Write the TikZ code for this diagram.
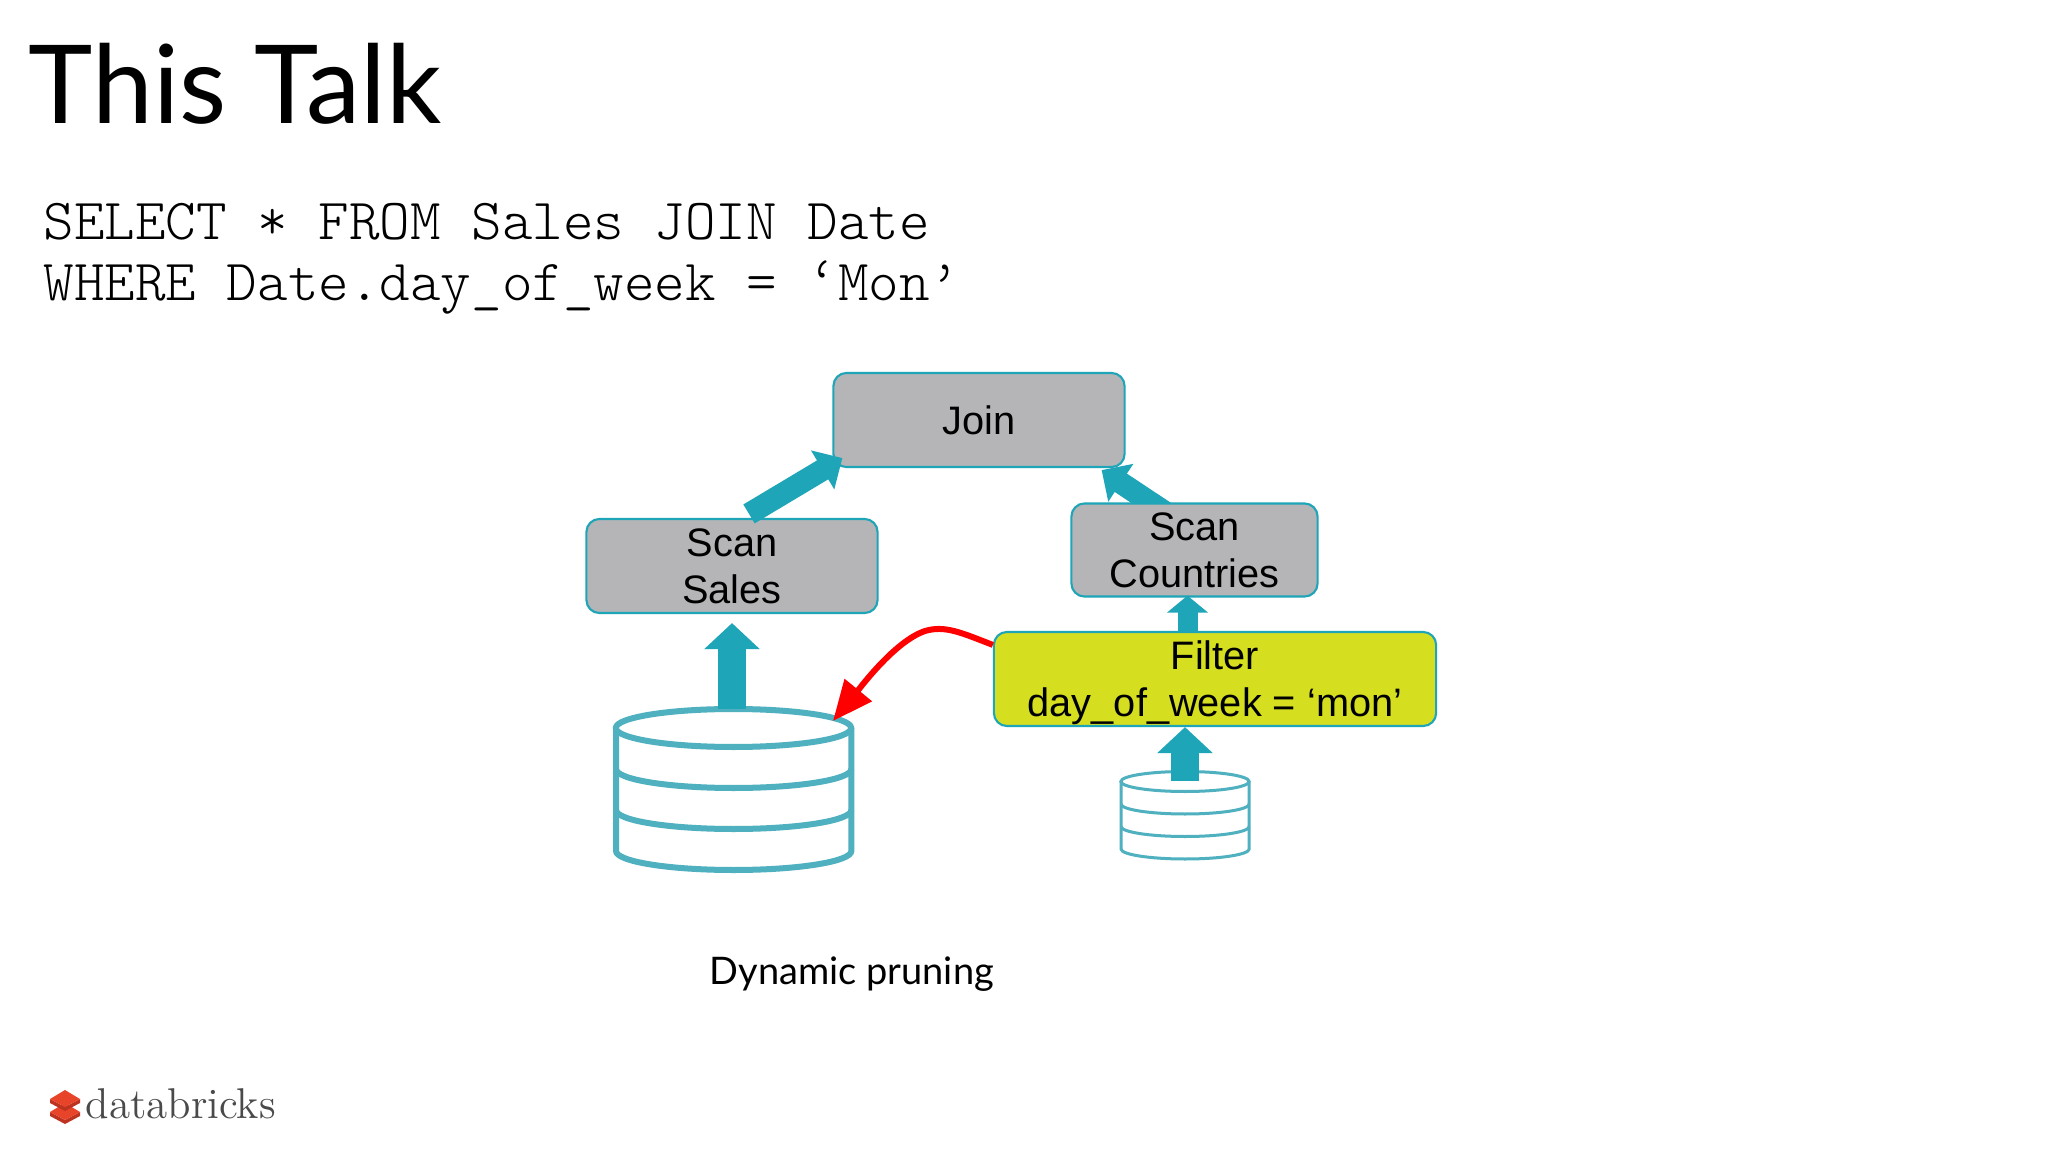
\documentclass[tikz,border=0pt]{standalone}
\usepackage{fontspec}
\usepackage{xcolor}
\newfontfamily\talkfont{Lato}
\newfontfamily\boxfont{Liberation Sans}
\usetikzlibrary{positioning,arrows.meta,calc,backgrounds}
\definecolor{flowteal}{HTML}{1FA5B8}
\definecolor{rimteal}{HTML}{4FB0BF}
\definecolor{opgrey}{HTML}{B5B4B6}
\definecolor{filtergreen}{HTML}{D5DF20}
\definecolor{logored}{HTML}{E8442A}
\definecolor{logodark}{HTML}{BE3320}
\definecolor{logotext}{HTML}{4A4A4A}
\tikzset{
  opbox/.style={draw=flowteal, line width=0.6pt, fill=opgrey, rounded corners=0.13cm, align=center, inner sep=0pt, text depth=-1.2pt, font=\boxfont\fontsize{11.3}{13.4}\selectfont},
  dbbox/.style={inner sep=0pt, outer sep=0pt},
  querytext/.style={anchor=base west, inner sep=0pt, font=\ttfamily\fontseries{l}\fontsize{16.55}{20}\selectfont},
  flowbig/.style={draw=flowteal, fill=flowteal, line width=0.28cm, -{Triangle[length=0.26cm,width=0.54cm]}},
  flowmid/.style={draw=flowteal, fill=flowteal, line width=0.22cm, -{Triangle[length=0.23cm,width=0.44cm]}},
  flowtiny/.style={draw=flowteal, fill=flowteal, line width=0.2cm, -{Triangle[length=0.17cm,width=0.4cm]}},
  prune/.style={draw=red, line width=0.06cm, -{Triangle[length=0.4cm,width=0.34cm]}}
}
\begin{document}
\begin{tikzpicture}[x=0.01cm, y=-0.01cm]
  \useasboundingbox (0,0) rectangle (2048,1152);
  % heading and query
  \node (title) [anchor=base west, inner sep=0pt, font=\talkfont\fontsize{31}{36}\selectfont] at (28,124) {This Talk};
  \node (queryone) [querytext] at (43,240) {SELECT * FROM Sales JOIN Date};
  \node (querytwo) [querytext] at (43,301) {WHERE Date.day\_of\_week = ‘Mon’};
  % operators
  \node (join) [opbox, minimum width=2.91cm, minimum height=0.94cm] at (979,420) {Join};
  \node (sales) [opbox, minimum width=2.91cm, minimum height=0.94cm] at (732,566) {Scan\\Sales};
  \node (countries) [opbox, minimum width=2.46cm, minimum height=0.93cm] at (1194.5,550) {Scan\\Countries};
  \node (filter) [opbox, fill=filtergreen, text depth=0pt, minimum width=4.42cm, minimum height=0.94cm] at (1215,679) {Filter\\day\_of\_week = ‘mon’};
  % tables
  \foreach \name/\cx/\top/\w/\h/\ry/\gap/\lw in {bigdb/733.5/709/235/165/19/41/0.06cm, smalldb/1185/771.5/128/86/10/22.5/0.03cm}{
    \node (\name) [dbbox, minimum width=\w*0.01cm, minimum height=\h*0.01cm, anchor=north] at (\cx,\top) {};
    \draw[rimteal, line width=\lw, fill=white] (\name.north west) ++(0,\ry) -- ++(0,3*\gap) arc[start angle=180, end angle=360, x radius=\w*0.005cm, y radius=\ry*0.01cm] -- ++(0,-3*\gap);
    \draw[rimteal, line width=\lw, fill=white] (\cx,\top+\ry) ellipse[x radius=\w*0.005cm, y radius=\ry*0.01cm];
    \foreach \k in {1,2}{
      \draw[rimteal, line width=\lw] (\name.north west) ++(0,\ry+\k*\gap) arc[start angle=180, end angle=360, x radius=\w*0.005cm, y radius=\ry*0.01cm];
    }
  }
  % flows
  \begin{scope}[on background layer]
    \fill[white] (0,0) rectangle (2048,1152);
    \draw[flowmid] ($(countries.north)+(-23,14)$) -- ($(join.south east)+(-24,2)$);
  \end{scope}
  \draw[flowmid] ($(sales.north)+(17,-4)$) -- ($(join.south west)+(10,-10)$);
  \draw[flowbig] (sales.south |- bigdb.north) -- ($(sales.south)+(0,9)$);
  \draw[flowtiny] ($(countries.south |- filter.north)+(-7,0)$) -- ($(countries.south)+(-7,-2)$);
  \draw[flowbig] ($(smalldb.north)+(0,9)$) -- (smalldb.north |- filter.south);
  \draw[prune] ($(filter.north west)+(0,14)$) .. controls (962,633) and (945,625) .. (925,631) .. controls (895,641) and (860,688) .. ($(bigdb.north east)+(-18,12)$);
  % caption
  \node (caption) [anchor=base west, inner sep=0pt, font=\talkfont\fontsize{10.8}{13}\selectfont] at (709,984) {Dynamic pruning};
  % logo
  \foreach \dy/\shade in {11/logodark, -2/logodark}{
    \fill[\shade] (50,1101+\dy) -- (65,1109+\dy) -- (80,1101+\dy) -- (80,1105+\dy) -- (65,1113+\dy) -- (50,1105+\dy) -- cycle;
    \fill[logored] (50,1101+\dy) -- (65,1092+\dy) -- (80,1101+\dy) -- (65,1109+\dy) -- cycle;
  }
  \node (logo) [anchor=base west, inner sep=0pt, text=logotext, font=\fontsize{12.25}{14}\selectfont] at (85,1118) {databricks};
\end{tikzpicture}
\end{document}
